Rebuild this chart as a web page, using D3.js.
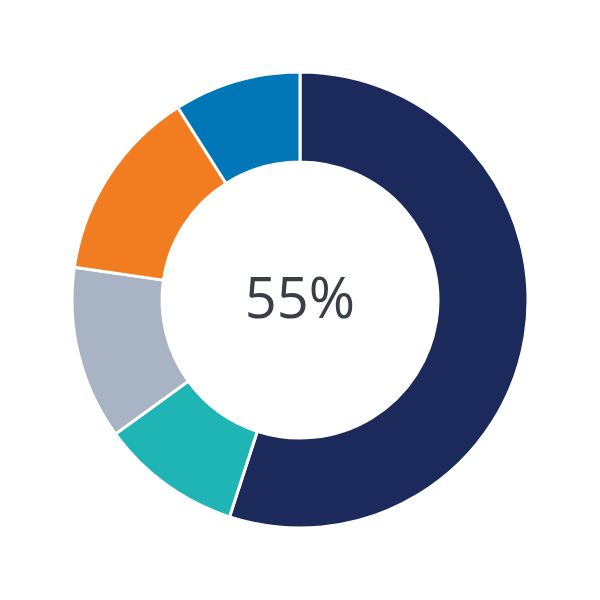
<!DOCTYPE html>
<html>
<head>
<meta charset="utf-8">
<script src="https://cdn.jsdelivr.net/npm/d3@7"></script>
<style>
  body { margin: 0; background: #fff; }
</style>
</head>
<body>
<div id="chart"></div>
<script>
var categories = ['A', 'B', 'C', 'D', 'E'];
var values = [55, 10, 12.3, 13.7, 9];
var colors = ['#1b2a5a', '#1fb5b5', '#a8b3c3', '#f27d21', '#0277b7'];
var centerLabel = '55%';

var width = 600,
    height = 600,
    outer = 228,
    inner = 138;

var data = categories.map(function(c, i) {
    return { name: c, value: values[i], color: colors[i] };
});

var svg = d3.select('#chart')
    .append('svg')
        .attr('width', width)
        .attr('height', height)
    .append('g')
        .attr('transform', 'translate(300,300)');

var pie = d3.pie()
    .sort(null)
    .value(function(d) { return d.value; });

var arc = d3.arc()
    .innerRadius(inner)
    .outerRadius(outer);

svg.selectAll('path')
    .data(pie(data))
    .enter()
    .append('path')
        .attr('d', arc)
        .attr('fill', function(d) { return d.data.color; })
        .attr('stroke', '#fff')
        .attr('stroke-width', 3);

svg.append('text')
    .attr('text-anchor', 'middle')
    .attr('y', 18)
    .style('font-family', "'Open Sans', 'Noto Sans', sans-serif")
    .attr('font-size', 56)
    .attr('fill', '#3a3f47')
    .text(centerLabel);
</script>
</body>
</html>
